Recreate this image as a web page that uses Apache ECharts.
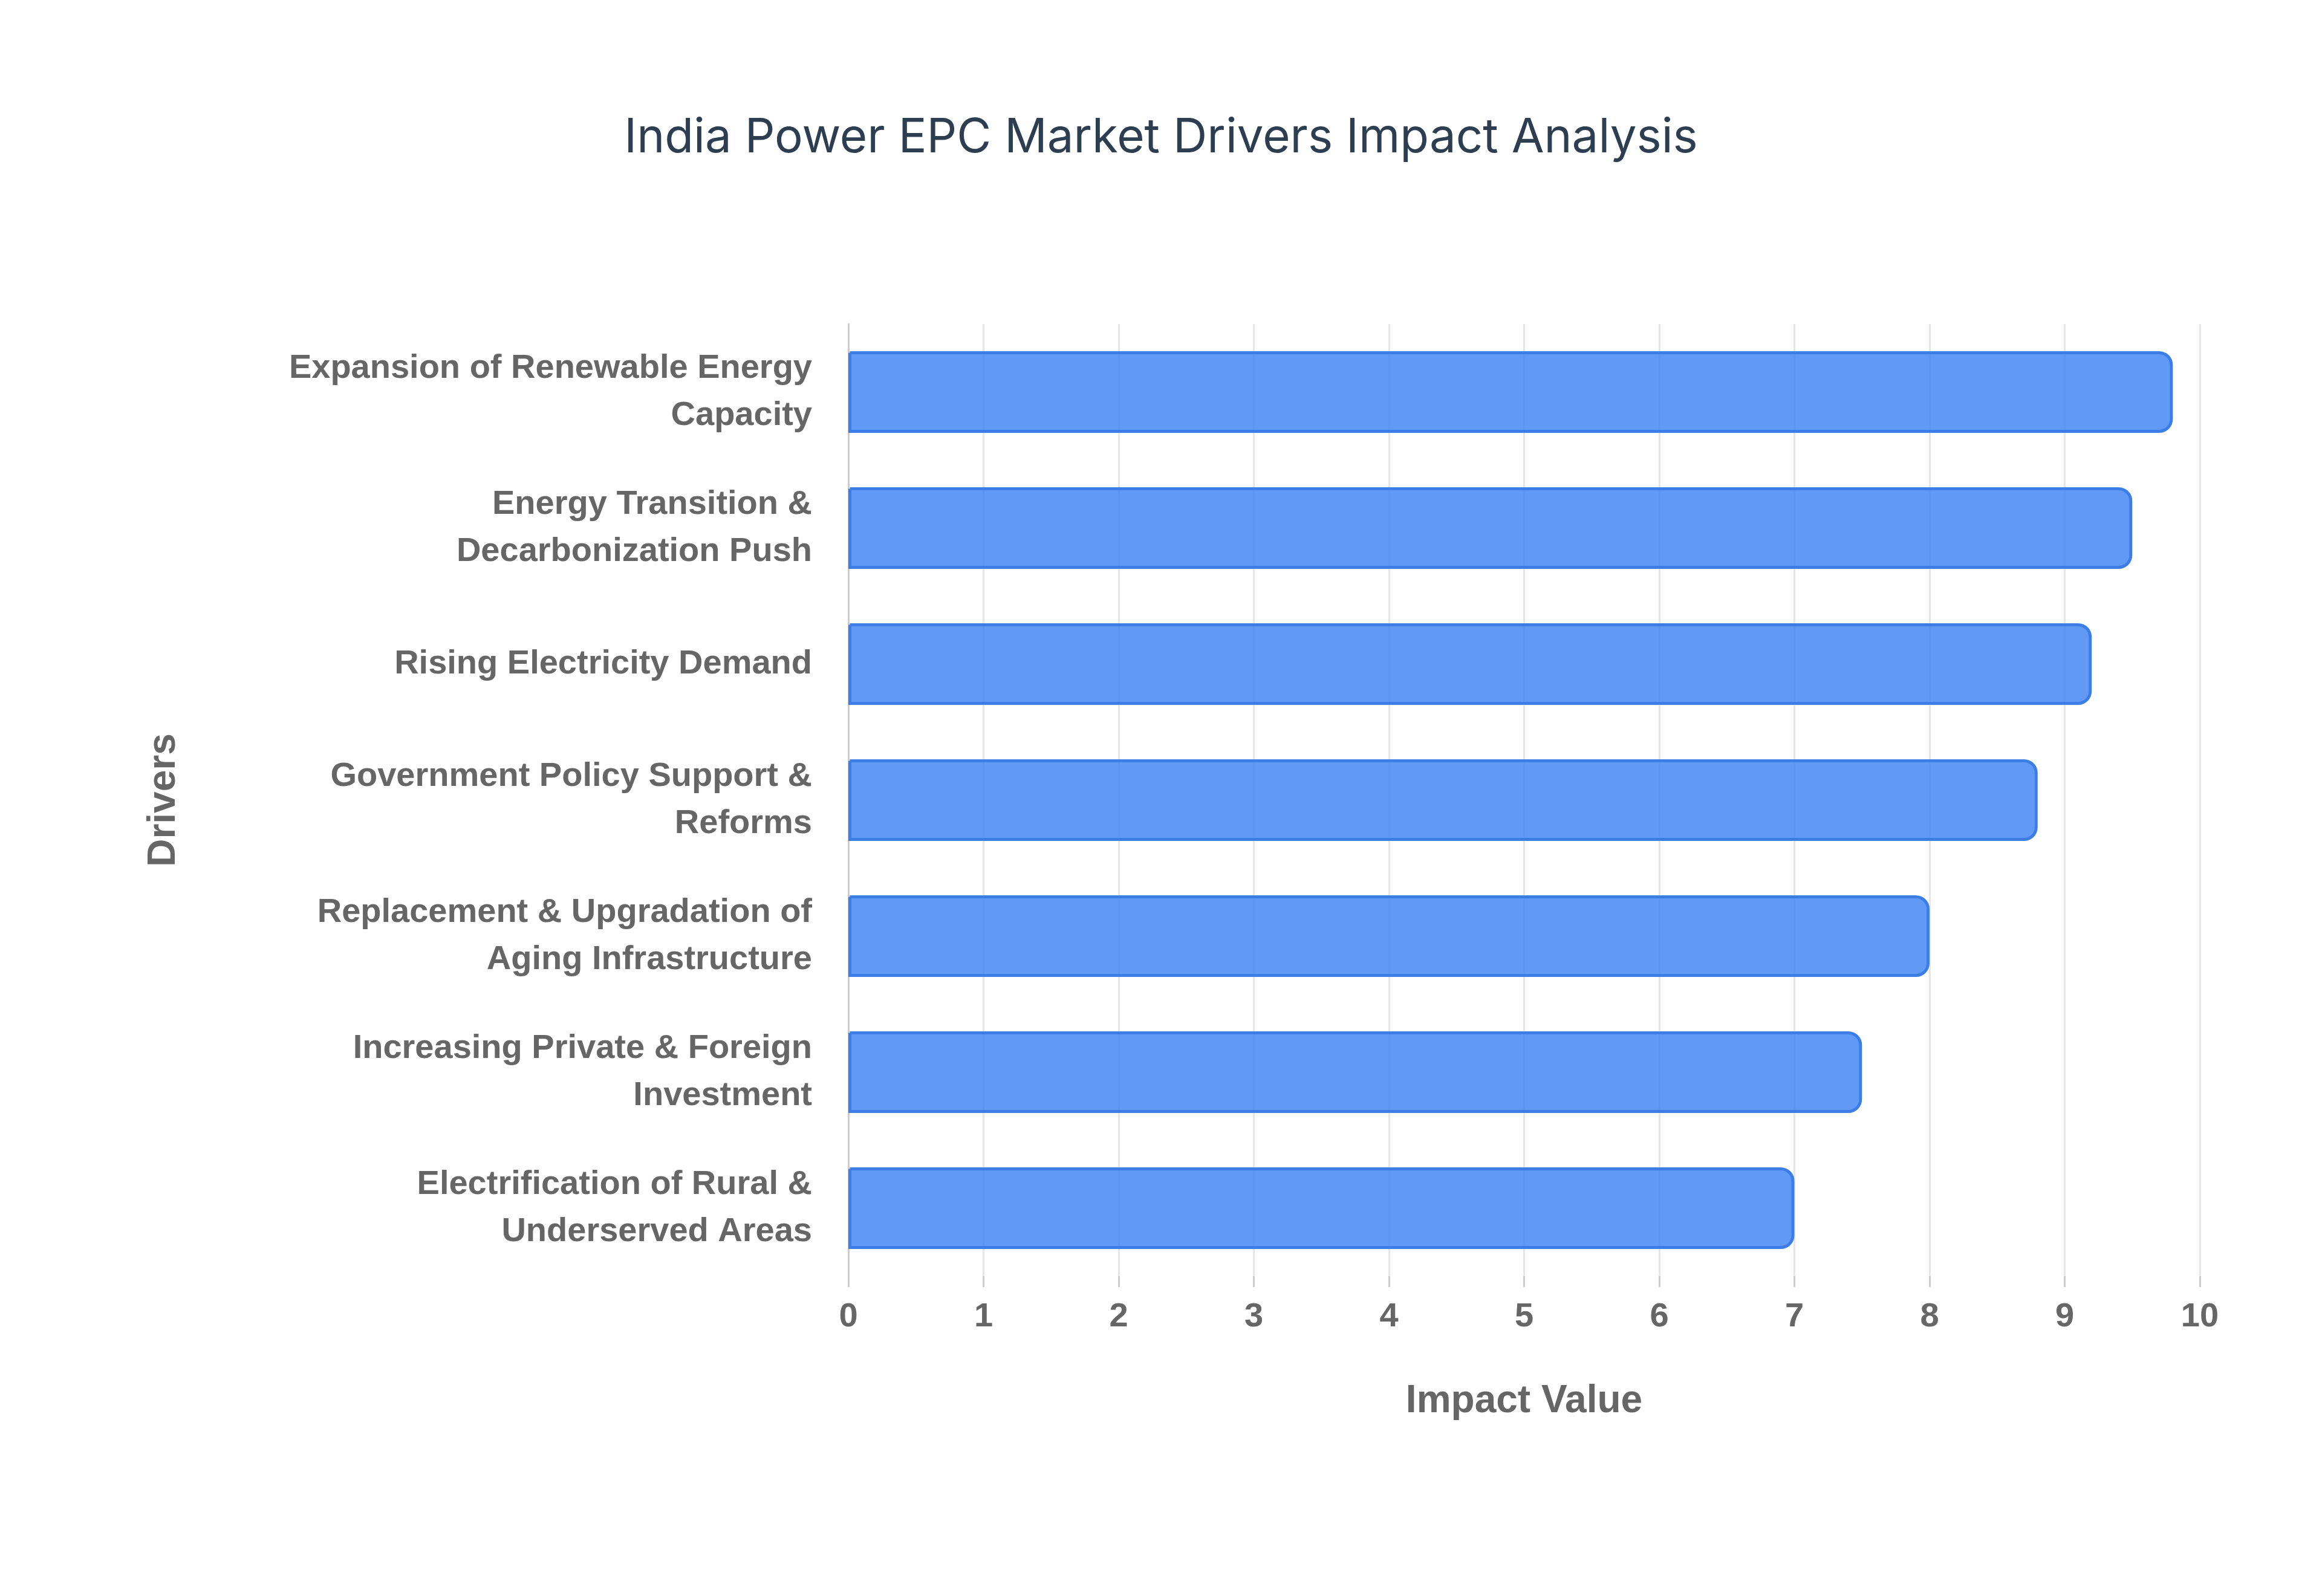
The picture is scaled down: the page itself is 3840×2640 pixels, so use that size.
<!DOCTYPE html>
<html>
<head>
<meta charset="utf-8">
<script src="https://cdn.jsdelivr.net/npm/echarts@6/dist/echarts.min.js"></script>
<style>html,body{margin:0;padding:0;background:#fff}#chart{width:3840px;height:2640px}</style>
</head>
<body>
<div id="chart"></div>
<script>
// drivers listed bottom to top (category axis runs upward)
const drivers = [
  "Electrification of Rural &\nUnderserved Areas",
  "Increasing Private & Foreign\nInvestment",
  "Replacement & Upgradation of\nAging Infrastructure",
  "Government Policy Support &\nReforms",
  "Rising Electricity Demand",
  "Energy Transition &\nDecarbonization Push",
  "Expansion of Renewable Energy\nCapacity"
];
const impactValues = [7.0, 7.5, 8.0, 8.8, 9.2, 9.5, 9.8];
const xTicks = {min: 0, max: 10, interval: 1};

const chart = echarts.init(document.getElementById("chart"));
chart.setOption({
  backgroundColor: "#fff",
  title: {
    text: "India Power EPC Market Drivers Impact Analysis",
    left: "center", top: 185,
    textStyle: {fontFamily: "Inter", fontWeight: "normal", fontSize: 78, color: "#2c3e50"}
  },
  grid: {left: 1403, right: 202, top: 536, bottom: 529},
  xAxis: {
    type: "value", min: xTicks.min, max: xTicks.max, interval: xTicks.interval,
    name: "Impact Value", nameLocation: "middle", nameGap: 175,
    nameTextStyle: {fontFamily: "Liberation Sans", fontWeight: "bold", fontSize: 64, color: "#666"},
    axisLabel: {fontFamily: "Liberation Sans", fontWeight: "bold", fontSize: 56, color: "#666", margin: 40},
    axisLine: {show: false},
    axisTick: {show: true, length: 18, lineStyle: {color: "#ccc", width: 3}},
    splitLine: {lineStyle: {color: "#e6e6e6", width: 3}}
  },
  yAxis: {
    type: "category", data: drivers,
    name: "Drivers", nameLocation: "middle", nameGap: 1100, nameRotate: 90,
    nameTextStyle: {fontFamily: "Liberation Sans", fontWeight: "bold", fontSize: 64, color: "#666"},
    axisLabel: {fontFamily: "Liberation Sans", fontWeight: "bold", fontSize: 56, color: "#666", margin: 60, lineHeight: 78, align: "right"},
    axisLine: {show: true, lineStyle: {color: "#ccc", width: 3}},
    axisTick: {show: false}
  },
  series: [{
    type: "bar", data: impactValues, barWidth: "60%",
    itemStyle: {color: "rgba(74,139,245,0.87)", borderColor: "#3d7ee6", borderWidth: 5, borderRadius: [0, 20, 20, 0]}
  }]
});
</script>
</body>
</html>
